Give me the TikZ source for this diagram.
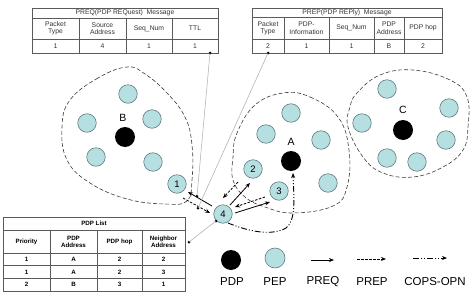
\documentclass[tikz,border=0pt]{standalone}
\usepackage{fontspec}
\setmainfont{Liberation Sans}
\usetikzlibrary{arrows.meta,calc}
\definecolor{pepfill}{RGB}{182,223,226}
\definecolor{pepline}{RGB}{95,125,128}
\definecolor{tabline}{RGB}{90,90,90}
\definecolor{bnd}{RGB}{60,60,60}
\definecolor{leader}{RGB}{170,170,170}
\begin{document}
\begin{tikzpicture}[x=1pt,y=-1pt,
  pep/.style={circle,draw=pepline,fill=pepfill,line width=0.6pt,minimum size=18.5pt,inner sep=0pt,font=\fontsize{9.5}{9.5}\selectfont},
  pdp/.style={circle,fill=black,minimum size=20pt,inner sep=0pt},
  lbl/.style={font=\fontsize{10.5}{10.5}\selectfont,inner sep=0pt},
  bound/.style={draw=bnd,line width=0.6pt,dash pattern=on 4pt off 2.2pt},
  tab/.style={draw=tabline,line width=0.5pt},
  tt/.style={font=\fontsize{6.8}{7.4}\selectfont,align=center,inner sep=0pt,text=black!80},
  tb/.style={font=\bfseries\fontsize{6.2}{7}\selectfont,align=center,inner sep=0pt},
  preq/.style={line width=0.8pt,-{Stealth[length=5pt,width=4pt]}},
  prep/.style={line width=0.8pt,dash pattern=on 2.5pt off 1.5pt,-{Stealth[length=5pt,width=4pt]}},
  cops/.style={line width=0.9pt,dash pattern=on 6pt off 2pt on 1pt off 2pt on 1pt off 2pt,-{Stealth[length=5pt,width=4pt]}},
  leadline/.style={draw=leader,line width=0.5pt},
  dotn/.style={circle,fill=black,inner sep=0pt,minimum size=3pt},
  leg/.style={font=\fontsize{11.5}{11.5}\selectfont,inner sep=0pt}]
\useasboundingbox (0,0) rectangle (474,300);

% ---- cluster boundaries
\draw[bound] plot[smooth cycle,tension=0.7] coordinates {(127,67) (98,78) (70,100) (62,127) (67,160) (90,183) (127,199) (165,204) (187,201) (192,180) (192,145) (185,117) (167,93) (145,74)};
\draw[bound] plot[smooth cycle,tension=0.7] coordinates {(283,93) (310,97) (338,117) (349,150) (347,187) (333,206) (293,213) (265,207) (245,197) (233,180) (233,157) (237,133) (255,105)};
\draw[bound] plot[smooth cycle,tension=0.7] coordinates {(357,93) (380,75) (413,70) (450,80) (467,97) (468,127) (463,150) (443,167) (413,177) (383,173) (363,157) (348,127) (350,107)};

% ---- cluster B
\node[pep] (b1) at (128,94) {};
\node[pep] (b2) at (87,123) {};
\node[pep] (b3) at (152,119) {};
\node[pep] (b4) at (96,157) {};
\node[pep] (b5) at (153,162) {};
\node[pdp] (B) at (125,137) {};
\node[lbl] (Bl) at (123,118) {B};
% ---- cluster A
\node[pep] (a1) at (291,113) {};
\node[pep] (a2) at (266,134) {};
\node[pep] (a3) at (321,140) {};
\node[pep] (a4) at (328,183) {};
\node[pdp] (A) at (291,161) {};
\node[lbl] (Al) at (291,142) {A};
% ---- cluster C
\node[pep] (c1) at (387,89) {};
\node[pep] (c2) at (449,108) {};
\node[pep] (c3) at (362,123) {};
\node[pep] (c4) at (446,140) {};
\node[pep] (c5) at (387,158) {};
\node[pep] (c6) at (417,162) {};
\node[pdp] (C) at (403,130) {};
\node[lbl] (Cl) at (403,110) {C};

% ---- numbered nodes
\node[pep] (n1) at (177,184) {1};
\node[pep] (n2) at (253,169) {2};
\node[pep] (n3) at (279,191) {3};
\node[pep] (n4) at (223,214) {4};

% ---- message arrows
\draw[preq] ([shift={(-11,-8)}]n4.center) -- ([shift={(11,8)}]n1.center);
\draw[prep] ([shift={(6,14)}]n1.center) -- ([shift={(-13,-1)}]n4.center);
\draw[preq] ([shift={(7,-9)}]n4.center) -- ([shift={(-3,14)}]n2.center);
\draw[prep] ([shift={(-15,13)}]n2.center) -- ([shift={(0,-16)}]n4.center);
\draw[preq] ([shift={(12,-1)}]n4.center) -- ([shift={(-9,11)}]n3.center);
\draw[prep] ([shift={(-14,6)}]n3.center) -- ([shift={(12,-7)}]n4.center);
\draw[cops] ([shift={(5,9)}]n4.center) .. controls (250,232) and (272,236) .. (286,228) .. controls (296,220) and (294,200) .. ([shift={(2,12)}]A.center);

% ---- PREQ table
\draw[tab] (32,8) rectangle (218,53);
\draw[tab] (32,18) -- (218,18) (32,39) -- (218,39);
\draw[tab] (79,18) -- (79,53) (126,18) -- (126,53) (172,18) -- (172,53);
\node[tt] (qt) at (125,13) {PREQ(PDP REQuest)\ \ Message};
\node[tt] (qh1) at (55.5,28.5) {Packet\\Type};
\node[tt] (qh2) at (102.5,28.5) {Source\\Address};
\node[tt] (qh3) at (149,28.5) {Seq\_Num};
\node[tt] (qh4) at (195,28.5) {TTL};
\node[tt] (qv1) at (55.5,46) {1};
\node[tt] (qv2) at (102.5,46) {4};
\node[tt] (qv3) at (149,46) {1};
\node[tt] (qv4) at (195,46) {1};

% ---- PREP table
\draw[tab] (252,8) rectangle (442,53);
\draw[tab] (252,17) -- (442,17) (252,39) -- (442,39);
\draw[tab] (284,17) -- (284,53) (329,17) -- (329,53) (374,17) -- (374,53) (404,17) -- (404,53);
\node[tt] (pt) at (347,12.5) {PREP(PDP REPly)\ \ Message};
\node[tt] (ph1) at (268,28) {Packet\\Type};
\node[tt] (ph2) at (306.5,28) {PDP-\\Information};
\node[tt] (ph3) at (351.5,28) {Seq\_Num};
\node[tt] (ph4) at (389,28) {PDP\\Address};
\node[tt] (ph5) at (423,28) {PDP hop};
\node[tt] (pv1) at (268,46) {2};
\node[tt] (pv2) at (306.5,46) {1};
\node[tt] (pv3) at (351.5,46) {1};
\node[tt] (pv4) at (389,46) {B};
\node[tt] (pv5) at (423,46) {2};

% ---- PDP List table
\draw[tab] (3,217) rectangle (185,291);
\draw[tab] (3,230) -- (185,230) (3,253) -- (185,253) (3,265.5) -- (185,265.5) (3,278) -- (185,278);
\draw[tab] (50,230) -- (50,291) (97,230) -- (97,291) (142,230) -- (142,291);
\node[tb] (lt) at (94,223.5) {PDP List};
\node[tb] (lh1) at (26.5,241.5) {Priority};
\node[tb] (lh2) at (73.5,241.5) {PDP\\Address};
\node[tb] (lh3) at (119.5,241.5) {PDP hop};
\node[tb] (lh4) at (163.5,241.5) {Neighbor\\Address};
\node[tb] (r11) at (26.5,259.5) {1};
\node[tb] (r12) at (73.5,259.5) {A};
\node[tb] (r13) at (119.5,259.5) {2};
\node[tb] (r14) at (163.5,259.5) {2};
\node[tb] (r21) at (26.5,272) {1};
\node[tb] (r22) at (73.5,272) {A};
\node[tb] (r23) at (119.5,272) {2};
\node[tb] (r24) at (163.5,272) {3};
\node[tb] (r31) at (26.5,284.5) {2};
\node[tb] (r32) at (73.5,284.5) {B};
\node[tb] (r33) at (119.5,284.5) {3};
\node[tb] (r34) at (163.5,284.5) {1};

% ---- leader lines with dots
\node[dotn] (qd) at (210,53) {};
\node[dotn] (pd) at (268,53) {};
\node[dotn] (ld) at (189,242) {};
\node[dotn] (d1) at (197,196) {};
\node[dotn] (d2) at (198,208) {};
\node[dotn] (d4) at (216,221) {};
\draw[leadline] (qd.center) -- (d1.center);
\draw[leadline] (pd.center) -- (d2.center);
\draw[leadline] (ld.center) -- (d4.center);

% ---- legend
\node[pdp] (lpdp) at (231,260) {};
\node[pep,minimum size=20pt] (lpep) at (275,258) {};
\coordinate (lq1) at (311,260); \coordinate (lq2) at (334,260);
\coordinate (lp1) at (357,259); \coordinate (lp2) at (386,259);
\coordinate (lc1) at (413,258); \coordinate (lc2) at (447,258);
\draw[preq] (lq1) -- (lq2);
\draw[prep] (lp1) -- (lp2);
\draw[cops] (lc1) -- (lc2);
\node[leg] (tpdp) at (232,282) {PDP};
\node[leg] (tpep) at (275,282) {PEP};
\node[leg] (tpreq) at (323,282) {PREQ};
\node[leg] (tprep) at (372,282) {PREP};
\node[leg] (tcops) at (435,282) {COPS-OPN};
\end{tikzpicture}
\end{document}
